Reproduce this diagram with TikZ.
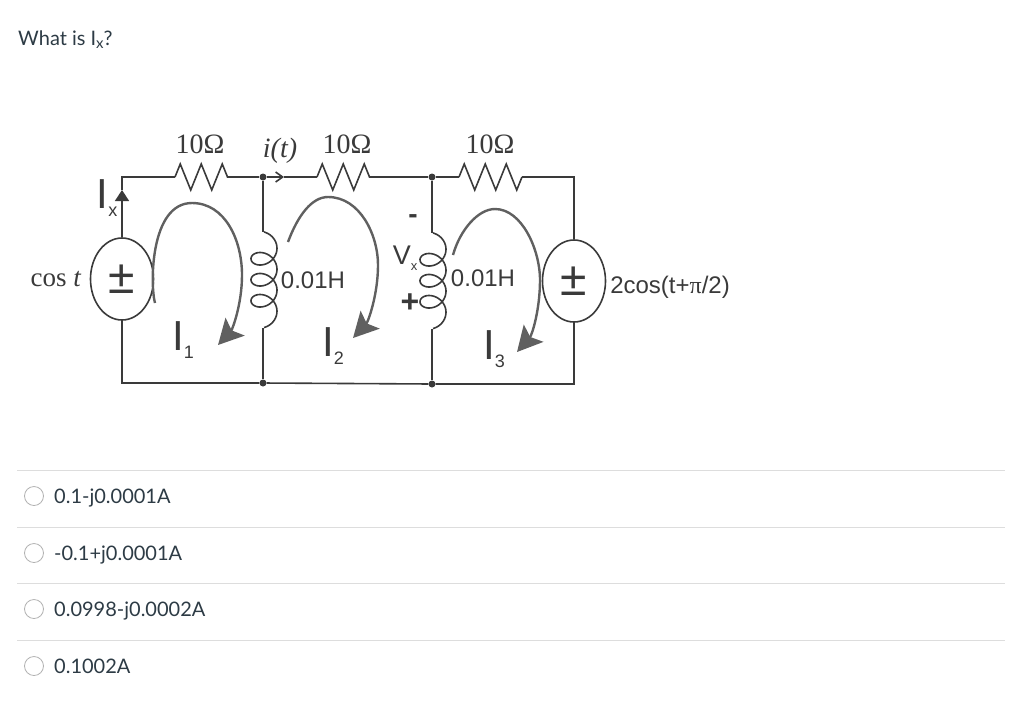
\documentclass[tikz,border=0pt]{standalone}
\usepackage{fontspec}
\setmainfont{Liberation Sans}
\newfontfamily\serif{Liberation Serif}
\newfontfamily\lato{Lato}
\usetikzlibrary{arrows.meta, decorations.pathmorphing, shapes.geometric}
\definecolor{wirecol}{HTML}{3A3A3A}
\definecolor{meshcol}{HTML}{606060}
\definecolor{inkcol}{HTML}{2D3B45}
\definecolor{rulecol}{HTML}{DDDDDD}
\newcommand{\bigI}[1]{{\fontsize{42}{42}\selectfont I}\raisebox{-8pt}{\fontsize{18}{18}\selectfont #1}}
\newcommand{\coilplot}[1]{\draw[wire, shift={(#1)}] plot[domain=0:1260, samples=140, smooth] ({13*sin(\x)+1}, {\x/360*21 + 11 - 11*cos(\x)});}

\begin{document}
\begin{tikzpicture}[x=1pt, y=-1pt,
    wire/.style={draw=wirecol, line width=1.6pt},
    resistor/.style={wire, decorate, decoration={zigzag, amplitude=13pt, segment length=21pt}},
    source/.style={ellipse, draw=wirecol, line width=1.6pt, inner sep=0pt, minimum width=63pt, minimum height=82pt, text=wirecol, font=\fontsize{48}{48}\selectfont},
    dotnode/.style={circle, fill=wirecol, inner sep=0pt, minimum size=7pt},
    ohm/.style={text=wirecol, font=\serif\fontsize{28}{28}\selectfont},
    label/.style={text=wirecol, font=\fontsize{24}{24}\selectfont},
    mesh/.style={draw=meshcol, line width=2.4pt, -{Stealth[length=25pt, width=26pt, inset=5pt]}},
    answer/.style={text=inkcol, anchor=base west, inner sep=0pt, font=\lato\fontsize{20}{20}\selectfont},
    radio/.style={circle, draw=gray!60, fill=white, line width=0.8pt, inner sep=0pt, minimum size=19pt}]

    \useasboundingbox (0,0) rectangle (1024,716);

    \node[answer] (question) at (18,45) {What is I\raisebox{-3pt}{\fontsize{15}{15}\selectfont x}?};

    % top row
    \node[coordinate] (corner1) at (122,177) {};
    \node[coordinate, right of=corner1, node distance=53pt] (r1a) {};
    \node[coordinate, right of=r1a, node distance=62pt] (r1b) {};
    \node[dotnode, right of=r1b, node distance=26pt] (top1) {};
    \node[coordinate, right of=top1, node distance=21pt] (itip) {};
    \node[coordinate, right of=top1, node distance=54pt] (r2a) {};
    \node[coordinate, right of=r2a, node distance=62pt] (r2b) {};
    \node[dotnode, right of=r2b, node distance=53pt] (top2) {};
    \node[coordinate, right of=top2, node distance=27pt] (r3a) {};
    \node[coordinate, right of=r3a, node distance=63pt] (r3b) {};
    \node[coordinate, right of=r3b, node distance=52pt] (corner2) {};

    % bottom row
    \node[coordinate, below of=corner1, node distance=206pt] (corner3) {};
    \node[dotnode, below of=top1, node distance=206pt] (bot1) {};
    \node[dotnode, below of=top2, node distance=207pt] (bot2) {};
    \node[coordinate, below of=corner2, node distance=207pt] (corner4) {};

    % sources and coils
    \node[source, below of=corner1, node distance=102pt] (src1) {±};
    \node[source, below of=corner2, node distance=104pt] (src2) {±};
    \node[coordinate, below of=corner1, node distance=13pt] (itop) {};
    \node[coordinate, below of=top1, node distance=55pt] (l1a) {};
    \node[coordinate, below of=l1a, node distance=96pt] (l1b) {};
    \node[coordinate, below of=top2, node distance=56pt] (l2a) {};
    \node[coordinate, below of=l2a, node distance=96pt] (l2b) {};

    \draw[wire, -{Triangle[length=11pt, width=14pt]}] (src1) -- (itop);
    \draw[wire] (itop) -- (corner1) -- (r1a);
    \draw[resistor] (r1a) -- (r1b);
    \draw[wire] (r1b) -- (top1);
    \draw[wire, -{Straight Barb[length=7pt, width=10pt]}] (top1) -- (itip);
    \draw[wire] (itip) -- (r2a);
    \draw[resistor] (r2a) -- (r2b);
    \draw[wire] (r2b) -- (top2) -- (r3a);
    \draw[resistor] (r3a) -- (r3b);
    \draw[wire] (r3b) -- (corner2) -- (src2);
    \draw[wire] (src2) -- (corner4) -- (bot2) -- (bot1) -- (corner3) -- (src1);

    \draw[wire] (top1) -- (l1a);
    \coilplot{l1a}
    \draw[wire] (l1b) -- (bot1);
    \draw[wire] (top2) -- (l2a);
    \coilplot{l2a}
    \draw[wire] (l2b) -- (bot2);

    % mesh currents
    \draw[mesh] (155,303) .. controls (150,285) and (150,203) .. (192,203) .. controls (225,203) and (242,240) .. (242,275) .. controls (242,305) and (232,330) .. (218,345);
    \draw[mesh] (288,242) .. controls (298,215) and (312,197) .. (328,197) .. controls (360,197) and (378,235) .. (378,265) .. controls (378,295) and (368,322) .. (353,338);
    \draw[mesh] (453,255) .. controls (460,230) and (478,209) .. (495,209) .. controls (522,209) and (540,250) .. (540,280) .. controls (540,310) and (532,335) .. (517,352);

    % labels
    \node[ohm] (r1lab) at (200,144) {10Ω};
    \node[ohm] (r2lab) at (347,144) {10Ω};
    \node[ohm] (r3lab) at (490,144) {10Ω};
    \node[ohm, font=\serif\itshape\fontsize{28}{28}\selectfont] (ilab) at (280,151) {i(t)};
    \node[ohm, font=\serif\fontsize{27}{27}\selectfont] (vlab) at (56,279) {cos \textit{t}};
    \node[label] (l1lab) at (313,280) {0.01H};
    \node[label] (l2lab) at (483,278) {0.01H};
    \node[label] (v2lab) at (670,287) {2cos(t+{\serif π}/2)};
    \node[text=wirecol] (ixlab) at (107,198) {\bigI{x}};
    \node[text=wirecol] (i1lab) at (183,340) {\bigI{1}};
    \node[text=wirecol] (i2lab) at (333,346) {\bigI{2}};
    \node[text=wirecol] (i3lab) at (494,349) {\bigI{3}};
    \node[text=wirecol] (vxlab) at (405,258) {\fontsize{27}{27}\selectfont V\raisebox{-6pt}{\fontsize{13}{13}\selectfont x}};
    \node[text=wirecol, font=\bfseries\fontsize{28}{28}\selectfont] (minus) at (413,219) {-};
    \node[text=wirecol, font=\bfseries\fontsize{32}{32}\selectfont] (plus) at (410,303) {+};

    % answers
    \foreach \ypos/\txt/\name in {496/0.1-j0.0001A/a, 553/-0.1+j0.0001A/b, 609/0.0998-j0.0002A/c, 666/0.1002A/d} {
        \node[radio] (radio\name) at (34,\ypos) {};
        \node[answer] (text\name) at (54,\ypos+7) {\txt};
    }
    \foreach \ypos/\name in {470/a, 527/b, 583/c, 640/d} {
        \node[coordinate] (rule\name) at (17,\ypos) {};
        \node[coordinate, right of=rule\name, node distance=988pt] (ruleend\name) {};
        \draw[rulecol, line width=1pt] (rule\name) -- (ruleend\name);
    }
\end{tikzpicture}
\end{document}
